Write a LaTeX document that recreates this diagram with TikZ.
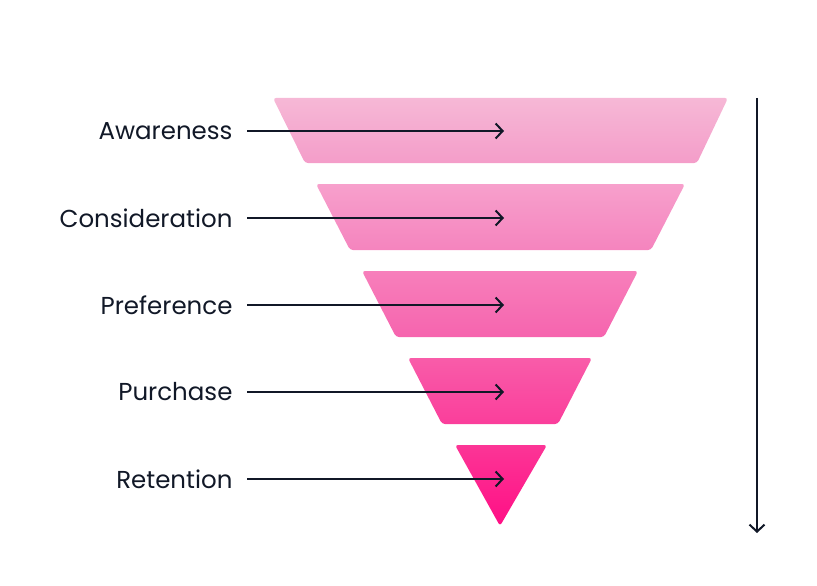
\documentclass[tikz,border=0pt]{standalone}
\usepackage{fontspec}
\setmainfont{Poppins}
\usetikzlibrary{arrows.meta}
\definecolor{textdark}{HTML}{111827}
\tikzset{
  stagelabel/.style={anchor=east,text=textdark,font=\fontsize{24.5}{28}\selectfont},
  stagearrow/.style={-{Straight Barb[length=7pt,width=15pt,line width=2pt]},line width=2pt,draw=textdark},
}
\begin{document}
\begin{tikzpicture}[x=1pt,y=-1pt]
\useasboundingbox (0,0) rectangle (817,586);
% funnel bands (top y, bottom y, left top, right top, left bottom, right bottom, top colour, bottom colour)
\foreach \yt/\yb/\lt/\rt/\lb/\rb/\ct/\cb in {
  98/163/273/728/305/697/F6B8D6/F49DC9,
  184/250/316/685/350/651/F7A0CC/F584BE,
  271/337/362/638/396/604/F77FBB/F664AE,
  358/424/408/592/442/558/F95CA9/FA3E9B,
  445/445/455/547/455/547/FC3596/FF0F85}{
  \definecolor{ctop}{HTML}{\ct}\definecolor{cbot}{HTML}{\cb}
  \ifnum\yt=445
    \shade[top color=ctop,bottom color=cbot,rounded corners=3pt] (455,445) -- (547,445) -- (500,526) -- cycle;
  \else
    \shade[top color=ctop,bottom color=cbot,rounded corners=3pt] (\lt,\yt) -- (\rt,\yt) -- (\rb,\yb) -- (\lb,\yb) -- cycle;
  \fi
}
% labels and arrows
\foreach \name/\txt/\yy in {aw/Awareness/131,co/Consideration/218,pr/Preference/305,pu/Purchase/392,re/Retention/479}{
  \node[stagelabel] (\name) at (236,\yy) {\txt};
  \coordinate (\name-end) at (504,\yy);
  \draw[stagearrow] (247,\yy) -- (\name-end);
}
% side arrow
\coordinate (top) at (757,98);
\coordinate (bottom) at (757,533);
\draw[stagearrow] (top) -- (bottom);
\end{tikzpicture}
\end{document}
